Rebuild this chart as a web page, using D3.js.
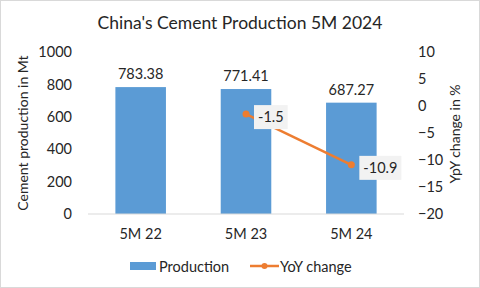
<!DOCTYPE html>
<html>
<head>
<meta charset="utf-8">
<script src="https://cdn.jsdelivr.net/npm/d3@7"></script>
<style>
  body { margin: 0; background: #fff; }
  svg text { font-family: Lato, "Open Sans", sans-serif; fill: #262626; }
</style>
</head>
<body>
<div id="chart"></div>
<script>
var periods = ["5M 22", "5M 23", "5M 24"];
var production = [783.38, 771.41, 687.27];
var yoyChange = [null, -1.5, -10.9];
var leftTicks = [0, 200, 400, 600, 800, 1000];
var rightTicks = [-20, -15, -10, -5, 0, 5, 10];

var W = 480, H = 288;
var margin = {top: 52, right: 76, bottom: 74, left: 88};

var svg = d3.select("#chart").append("svg")
    .attr("width", W).attr("height", H);

svg.append("rect")
    .attr("x", 0.5).attr("y", 0.5)
    .attr("width", W - 1).attr("height", H - 1)
    .attr("fill", "#fff").attr("stroke", "#d9d9d9");

var x = d3.scaleBand()
    .domain(periods)
    .range([margin.left, W - margin.right])
    .paddingInner(0.52).paddingOuter(0.26);

var y = d3.scaleLinear()
    .domain([0, 1000])
    .range([H - margin.bottom, margin.top]);

var y2 = d3.scaleLinear()
    .domain([-20, 10])
    .range([H - margin.bottom, margin.top]);

// title
svg.append("text")
    .attr("x", W / 2).attr("y", 29)
    .attr("text-anchor", "middle")
    .style("font-size", "17.5px")
    .text("China's Cement Production 5M 2024");

// left axis
var leftAxis = svg.append("g")
    .attr("transform", "translate(" + (margin.left - 16) + ",0)")
    .call(d3.axisLeft(y).tickValues(leftTicks).tickFormat(d3.format("d")).tickSize(0).tickPadding(0));
leftAxis.select(".domain").remove();
leftAxis.selectAll("text").style("font-size", "14.5px");

// right axis
var rightAxis = svg.append("g")
    .attr("transform", "translate(" + (W - margin.right + 14) + ",0)")
    .call(d3.axisRight(y2).tickValues(rightTicks).tickSize(0).tickPadding(0));
rightAxis.select(".domain").remove();
rightAxis.selectAll("text").style("font-size", "14.5px");

// axis titles
svg.append("text")
    .attr("transform", "translate(28," + ((margin.top + H - margin.bottom) / 2) + ") rotate(-90)")
    .attr("text-anchor", "middle")
    .style("font-size", "14px")
    .text("Cement production  in Mt");

svg.append("text")
    .attr("transform", "translate(460," + ((margin.top + H - margin.bottom) / 2 + 1) + ") rotate(-90)")
    .attr("text-anchor", "middle")
    .style("font-size", "14px")
    .text("YpY change in %");

// bars
svg.selectAll("rect.bar")
    .data(production)
    .enter().append("rect")
    .attr("class", "bar")
    .attr("x", function(d, i) { return x(periods[i]); })
    .attr("y", function(d) { return y(d); })
    .attr("width", x.bandwidth())
    .attr("height", function(d) { return y(0) - y(d); })
    .attr("fill", "#5b9bd5");

// baseline
svg.append("line")
    .attr("x1", margin.left).attr("x2", W - margin.right)
    .attr("y1", y(0)).attr("y2", y(0))
    .attr("stroke", "#d9d9d9");

// bar labels
svg.selectAll("text.barlabel")
    .data(production)
    .enter().append("text")
    .attr("class", "barlabel")
    .attr("x", function(d, i) { return x(periods[i]) + x.bandwidth() / 2; })
    .attr("y", function(d) { return y(d) - 8; })
    .attr("text-anchor", "middle")
    .style("font-size", "14.5px")
    .text(function(d) { return d.toFixed(2); });

// x labels
svg.selectAll("text.xlabel")
    .data(periods)
    .enter().append("text")
    .attr("class", "xlabel")
    .attr("x", function(d) { return x(d) + x.bandwidth() / 2; })
    .attr("y", y(0) + 25)
    .attr("text-anchor", "middle")
    .style("font-size", "14.5px")
    .text(function(d) { return d; });

// yoy line
var pts = periods.map(function(p, i) { return {p: p, v: yoyChange[i]}; })
    .filter(function(d) { return d.v !== null; });

var line = d3.line()
    .x(function(d) { return x(d.p) + x.bandwidth() / 2; })
    .y(function(d) { return y2(d.v); });

svg.append("path")
    .datum(pts)
    .attr("d", line)
    .attr("fill", "none")
    .attr("stroke", "#ed7d31")
    .attr("stroke-width", 2.5);

svg.selectAll("circle.pt")
    .data(pts)
    .enter().append("circle")
    .attr("class", "pt")
    .attr("cx", function(d) { return x(d.p) + x.bandwidth() / 2; })
    .attr("cy", function(d) { return y2(d.v); })
    .attr("r", 3.5)
    .attr("fill", "#ed7d31");

// yoy labels with boxes
var lbl = svg.selectAll("g.yoylabel")
    .data(pts)
    .enter().append("g")
    .attr("class", "yoylabel")
    .attr("transform", function(d) {
        return "translate(" + (x(d.p) + x.bandwidth() / 2 + 8) + "," + (y2(d.v) + 3) + ")";
    });

lbl.each(function(d) {
    var g = d3.select(this);
    var t = g.append("text")
        .attr("x", 4).attr("y", 0)
        .attr("dy", "0.35em")
        .style("font-size", "14.5px")
        .text(d.v.toFixed(1));
    var bb = t.node().getBBox();
    g.insert("rect", "text")
        .attr("x", 0).attr("y", -12)
        .attr("width", bb.width + 8).attr("height", 24)
        .attr("fill", "#f2f2f2");
});

// legend
var leg = svg.append("g");
leg.append("rect")
    .attr("x", 130).attr("y", 262)
    .attr("width", 26).attr("height", 8)
    .attr("fill", "#5b9bd5");
leg.append("text")
    .attr("x", 159).attr("y", 271.5)
    .style("font-size", "14.5px")
    .text("Production");
leg.append("line")
    .attr("x1", 250).attr("x2", 279)
    .attr("y1", 266).attr("y2", 266)
    .attr("stroke", "#ed7d31").attr("stroke-width", 2.5);
leg.append("circle")
    .attr("cx", 264.5).attr("cy", 266).attr("r", 3)
    .attr("fill", "#ed7d31");
leg.append("text")
    .attr("x", 280).attr("y", 271.5)
    .style("font-size", "14.5px")
    .text("YoY change");
</script>
</body>
</html>
